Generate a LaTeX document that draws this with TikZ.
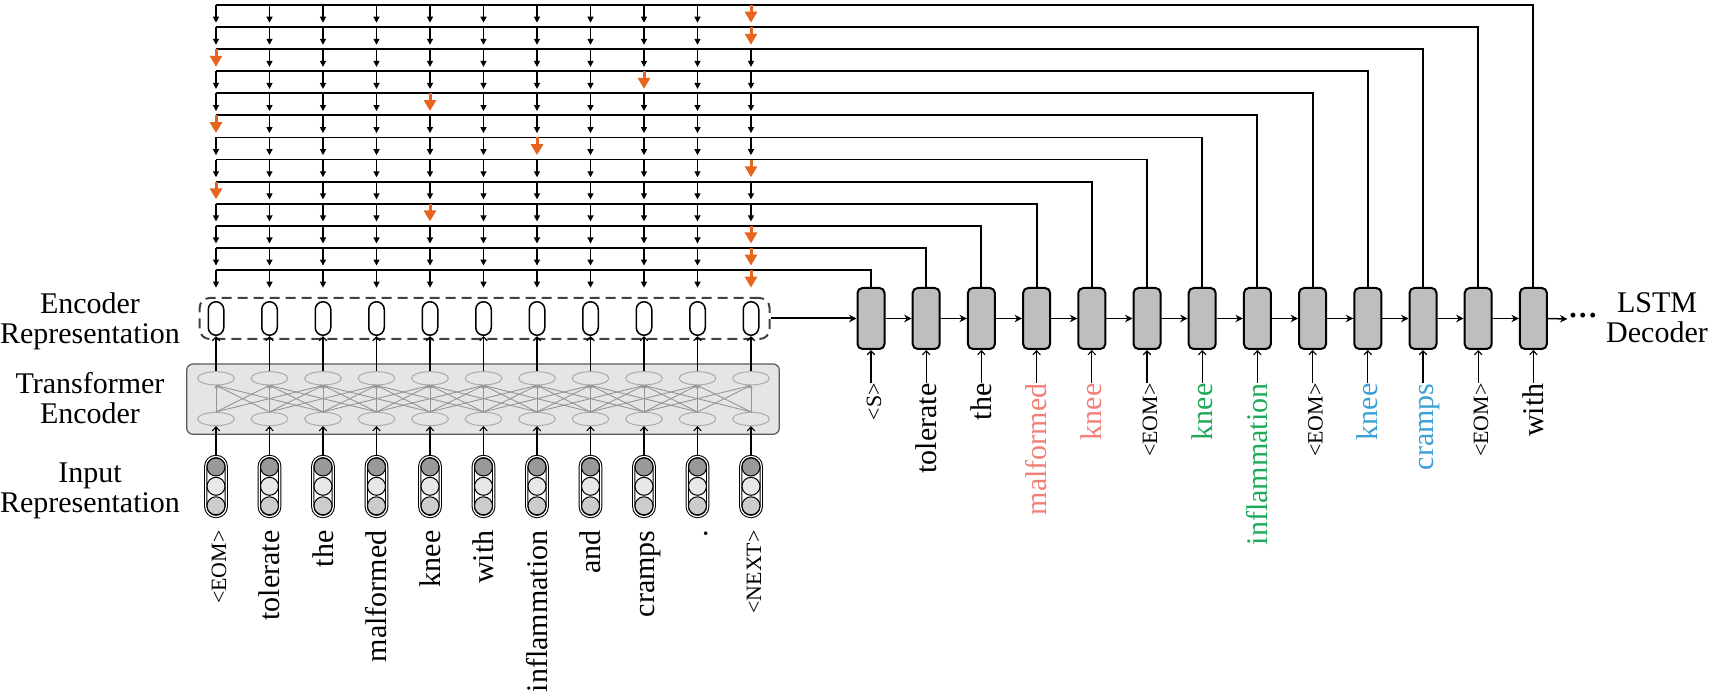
\documentclass[tikz,border=0pt]{standalone}
\usepackage{fontspec}
\setmainfont{Liberation Serif}
\usepackage{tikz}
\usetikzlibrary{arrows.meta,shapes.geometric}

\definecolor{ptrorange}{RGB}{230,100,30}
\definecolor{spanred}{RGB}{240,128,120}
\definecolor{spangreen}{RGB}{30,170,90}
\definecolor{spanblue}{RGB}{60,160,215}
\definecolor{cellgray}{RGB}{190,190,190}
\definecolor{boxgray}{RGB}{229,229,229}
\newcommand{\tok}[1]{{\fontsize{8.75}{9}\selectfont #1}}

\begin{document}
\begin{tikzpicture}[x=0.4pt,y=-0.4pt]
\tikzstyle{every node}+=[inner sep=0pt]
\tikzstyle{lbl}=[font=\fontsize{12}{12}\selectfont, align=center]
\tikzstyle{word}=[font=\fontsize{12}{12}\selectfont, rotate=90, anchor=east, text height=8.5pt, text depth=0.5pt]
\tikzstyle{encbox}=[draw=black!75, line width=0.8pt, dash pattern=on 4pt off 2.4pt, rounded corners=4pt, minimum width=228pt, minimum height=16.4pt]
\tikzstyle{enccell}=[draw, fill=white, line width=0.6pt, rounded corners=3.1pt, minimum width=6.2pt, minimum height=13.4pt]
\tikzstyle{tfbox}=[draw=black!65, fill=boxgray, line width=0.5pt, rounded corners=2.5pt]
\tikzstyle{ell}=[ellipse, draw=black!33, line width=0.4pt, minimum width=14.7pt, minimum height=5.3pt]
\tikzstyle{inpcell}=[draw, double=white, double distance=0.5pt, line width=0.4pt, rounded corners=4pt, minimum width=8.2pt, minimum height=24pt]
\tikzstyle{dotc}=[circle, draw, line width=0.4pt, minimum size=7.2pt]
\tikzstyle{deccell}=[draw, fill=cellgray, line width=0.8pt, rounded corners=2pt, minimum width=10.8pt, minimum height=24.4pt]
\tikzstyle{rowline}=[line width=0.75pt]
\tikzstyle{rowarrow}=[line width=0.5pt, -{Triangle[length=2.4pt,width=2.4pt]}]
\tikzstyle{ptrarrow}=[draw=ptrorange, line width=1.2pt, -{Triangle[length=4.4pt,width=4.8pt]}]
\tikzstyle{up}=[line width=0.45pt, -{Straight Barb[length=1.6pt,width=3pt]}]
\tikzstyle{chain}=[line width=0.6pt, -{Stealth[length=3pt,width=3pt]}]
\tikzstyle{attn}=[draw=black!42, line width=0.35pt, -{Stealth[length=1.3pt,width=1.3pt]}]
\useasboundingbox (0,0) rectangle (1709,692);

\node[lbl] (encrep) at (90,321) {Encoder\\Representation};
\node[lbl] (tfenc) at (90,398) {Transformer\\Encoder};
\node[lbl] (inrep) at (90,491) {Input\\Representation};

\draw[tfbox] (186.7,364) rectangle (779.3,434.3);
\node[encbox] (encbox) at (484.6,318.5) {};

\foreach \i in {0,...,10} {
  \node[enccell] (enc\i) at ({216+53.5*\i},318.5) {};
  \node[ell] (et\i) at ({216+53.5*\i},378.3) {};
  \node[ell] (eb\i) at ({216+53.5*\i},419) {};
  \node[inpcell] (inp\i) at ({216+53.5*\i},486.5) {};
  \node[dotc, fill=black!40] (inp\i a) at ({216+53.5*\i},467) {};
  \node[dotc, fill=black!9] (inp\i b) at ({216+53.5*\i},486.3) {};
  \node[dotc, fill=black!20] (inp\i c) at ({216+53.5*\i},505.8) {};
  \draw[up] (inp\i.north) -- (eb\i.south);
  \draw[up] (et\i.north) -- (enc\i.south);
}
\foreach \i in {0,...,10}
  \foreach \j in {0,...,10} {
    \pgfmathtruncatemacro\dd{abs(\i-\j)}
    \ifnum\dd<3 \draw[attn] (eb\i.north) -- (et\j.south); \fi
  }

\foreach \w [count=\n from 0] in {\tok{<EOM>}, tolerate, the, malformed, knee, with, inflammation, and, cramps, ., \tok{<NEXT>}}
  \node[word] (il\n) at ({216+53.5*\n},530) {\w};

\foreach \c/\w [count=\j from 0] in {black/\tok{<S>}, black/tolerate, black/the, spanred/malformed, spanred/knee, black/\tok{<EOM>}, spangreen/knee, spangreen/inflammation, black/\tok{<EOM>}, spanblue/knee, spanblue/cramps, black/\tok{<EOM>}, black/with} {
  \node[deccell] (dec\j) at ({871+55.2*\j},318.5) {};
  \node[word, text=\c] (dl\j) at ({871+55.2*\j},383) {\w};
  \draw[up] (dl\j.east) -- (dec\j.south);
}

\draw[chain, line width=0.8pt] (encbox.east) -- (dec0.west);
\foreach \j [evaluate=\j as \jn using int(\j+1)] in {0,...,11}
  \draw[chain] (dec\j.east) -- (dec\jn.west);
\node (dots) at (1583,319) {\fontsize{12}{12}\selectfont\bfseries ···};
\draw[chain] (dec12.east) -- (dots.west);
\node[lbl] (declbl) at (1657,318) {LSTM\\Decoder};

\foreach \k/\o in {0/10,1/10,2/0,3/8,4/4,5/0,6/6,7/10,8/0,9/4,10/10,11/10,12/10} {
  \coordinate (r\k) at (216,{5+22.08*\k});
  \pgfmathtruncatemacro\j{12-\k}
  \draw[rowline] (dec\j.north) |- (r\k);
  \foreach \i in {0,...,10} {
    \ifnum\i=\o
      \draw[ptrarrow] (enc\i |- r\k) -- ++(0,17.7);
    \else
      \draw[rowarrow] (enc\i |- r\k) -- ++(0,17.7);
    \fi
  }
}
\end{tikzpicture}
\end{document}
